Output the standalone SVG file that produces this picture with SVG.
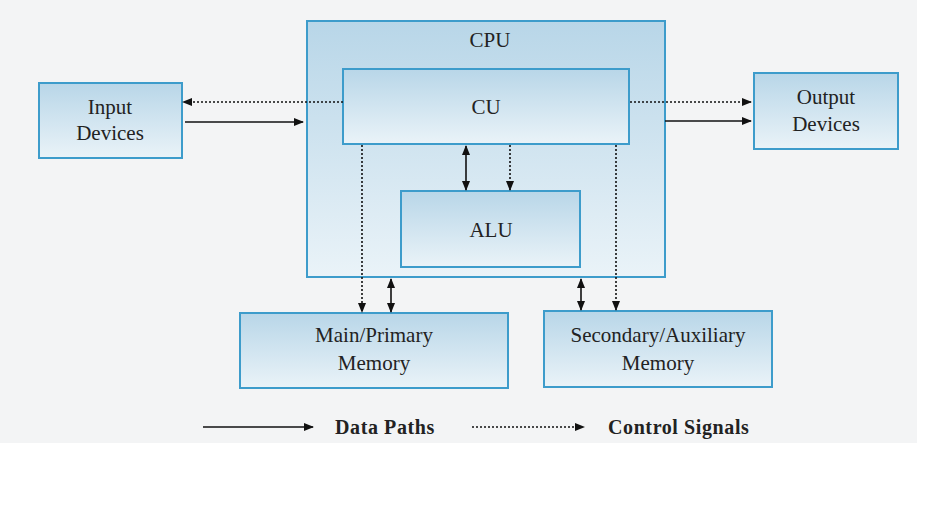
<svg xmlns="http://www.w3.org/2000/svg" width="937" height="514" viewBox="0 0 937 514">
<defs>
<linearGradient id="g" x1="0" y1="0" x2="0" y2="1"><stop offset="0" stop-color="#b8d6e8"/><stop offset="1" stop-color="#eaf3f8"/></linearGradient>
<marker id="a" viewBox="0 0 10 10" refX="9" refY="5" markerWidth="10" markerHeight="10" markerUnits="userSpaceOnUse" orient="auto-start-reverse"><path d="M0,1 L10,5 L0,9 z" fill="#111"/></marker>
</defs>
<style>
.box{fill:url(#g);stroke:#3d9ccb;stroke-width:2}
.t{font-family:"Liberation Serif",serif;font-size:21px;fill:#222;text-anchor:middle}
.s{stroke:#111;stroke-width:1.6;fill:none}
.d{stroke:#111;stroke-width:1.6;fill:none;stroke-dasharray:2,2}
.l{font-family:"Liberation Serif",serif;font-size:20px;font-weight:bold;fill:#222;letter-spacing:0.6px}
</style>
<rect width="937" height="514" fill="#fff"/>
<rect width="917" height="443" fill="#f3f4f5"/>
<g id="cpu"><rect class="box" x="307" y="21" width="358" height="256"/><text class="t" x="490" y="47">CPU</text></g>
<g id="cu"><rect class="box" x="343" y="69" width="286" height="75"/><text class="t" x="486" y="114">CU</text></g>
<g id="alu"><rect class="box" x="401" y="191" width="179" height="76"/><text class="t" x="491" y="237">ALU</text></g>
<g id="input"><rect class="box" x="39" y="83" width="143" height="75"/><text class="t" x="110" y="114">Input</text><text class="t" x="110" y="140">Devices</text></g>
<g id="output"><rect class="box" x="754" y="73" width="144" height="76"/><text class="t" x="826" y="104">Output</text><text class="t" x="826" y="131">Devices</text></g>
<g id="main"><rect class="box" x="240" y="313" width="268" height="75"/><text class="t" x="374" y="342">Main/Primary</text><text class="t" x="374" y="370">Memory</text></g>
<g id="secondary"><rect class="box" x="544" y="311" width="228" height="76"/><text class="t" x="658" y="342">Secondary/Auxiliary</text><text class="t" x="658" y="370">Memory</text></g>
<g id="connectors">
<line class="d" x1="343" y1="102" x2="183" y2="102" marker-end="url(#a)"/>
<line class="s" x1="185" y1="122" x2="303" y2="122" marker-end="url(#a)"/>
<line class="d" x1="630" y1="102" x2="751" y2="102" marker-end="url(#a)"/>
<line class="s" x1="665" y1="121" x2="751" y2="121" marker-end="url(#a)"/>
<line class="s" x1="466" y1="146" x2="466" y2="190" marker-start="url(#a)" marker-end="url(#a)"/>
<line class="d" x1="510" y1="145" x2="510" y2="190" marker-end="url(#a)"/>
<line class="d" x1="362" y1="145" x2="362" y2="312" marker-end="url(#a)"/>
<line class="s" x1="391" y1="279" x2="391" y2="312" marker-start="url(#a)" marker-end="url(#a)"/>
<line class="s" x1="581" y1="279" x2="581" y2="310" marker-start="url(#a)" marker-end="url(#a)"/>
<line class="d" x1="616" y1="145" x2="616" y2="310" marker-end="url(#a)"/>
</g>
<g id="legend">
<line class="s" x1="203" y1="427" x2="313" y2="427" marker-end="url(#a)"/>
<text class="l" x="335" y="434">Data Paths</text>
<line class="d" x1="472" y1="427" x2="584" y2="427" marker-end="url(#a)"/>
<text class="l" x="608" y="434">Control Signals</text>
</g>
</svg>
